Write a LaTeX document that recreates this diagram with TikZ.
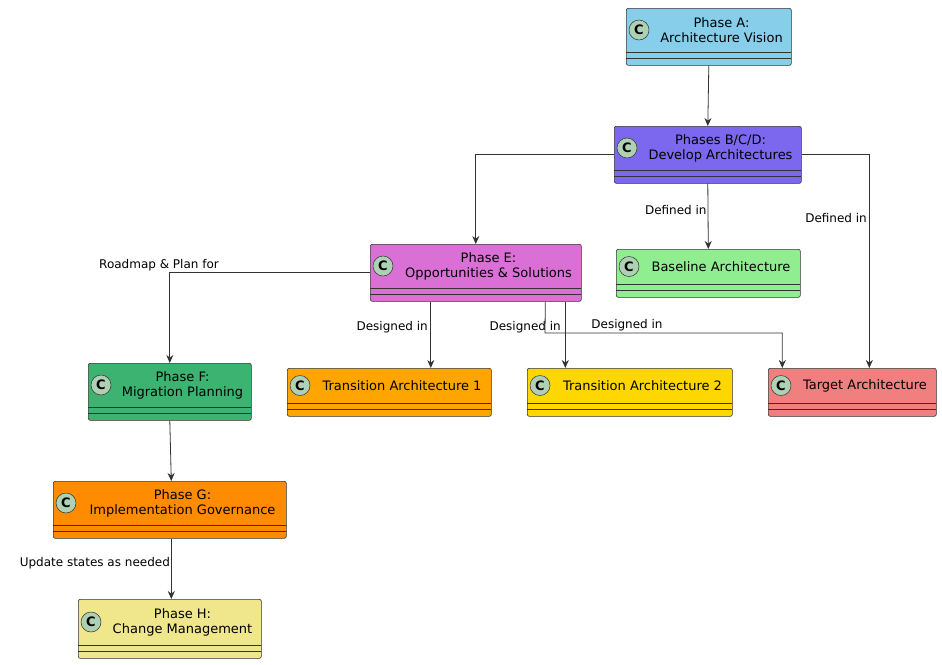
\documentclass[tikz,border=0pt]{standalone}
\usepackage{fontspec}
\setmainfont{DejaVu Sans}
\usetikzlibrary{arrows.meta}
\definecolor{cA}{HTML}{87CEEB}\definecolor{cB}{HTML}{7B68EE}\definecolor{cE}{HTML}{DA70D6}
\definecolor{cBase}{HTML}{90EE90}\definecolor{cF}{HTML}{3CB371}\definecolor{cT1}{HTML}{FFA500}
\definecolor{cT2}{HTML}{FFD700}\definecolor{cTg}{HTML}{F08080}\definecolor{cG}{HTML}{FF8C00}
\definecolor{cH}{HTML}{F0E68C}\definecolor{icon}{HTML}{ADD1B2}\definecolor{ln}{HTML}{333333}
\tikzset{clsbox/.style={draw=ln,line width=0.6pt,rounded corners=2pt,anchor=north west,inner sep=0pt},
 conn/.style={draw=ln,line width=0.8pt,-{Stealth[length=8pt,width=7pt]}},
 lbl/.style={font=\fontsize{12}{14}\selectfont,inner sep=1pt}}
\newcommand\cls[7]{%
 \node[clsbox,fill=#6,minimum width=#4pt-#2pt,minimum height=#5pt-#3pt] (#1) at (#2,#3) {};
 \draw[ln,line width=0.5pt] (#2,#5-13) -- (#4,#5-13) (#2,#5-7) -- (#4,#5-7);
 \pgfmathsetmacro\hy{(#3+#5-13)/2}
 \node[circle,fill=icon,draw=ln,line width=0.5pt,minimum size=20pt,inner sep=0pt,font=\bfseries\fontsize{13}{13}\selectfont] at (#2+13,\hy) {C};
 \node[align=center,font=\fontsize{13}{15}\selectfont,inner sep=0pt] at ({(#2+26+#4)/2},\hy) {#7};}
\begin{document}
\begin{tikzpicture}[x=1pt,y=-1pt]
\useasboundingbox[fill=white] (0,0) rectangle (942,664);
\cls{A}{626}{8}{791}{65}{cA}{Phase A:\\Architecture Vision}
\cls{B}{614}{126}{801}{183}{cB}{Phases B/C/D:\\Develop Architectures}
\cls{E}{370}{244}{581}{301}{cE}{Phase E:\\Opportunities \& Solutions}
\cls{Base}{616}{249}{800}{297}{cBase}{Baseline Architecture}
\cls{F}{88}{363}{251}{420}{cF}{Phase F:\\Migration Planning}
\cls{T1}{287}{368}{491}{416}{cT1}{Transition Architecture 1}
\cls{T2}{527}{368}{732}{416}{cT2}{Transition Architecture 2}
\cls{Tg}{768}{368}{936}{416}{cTg}{Target Architecture}
\cls{G}{53}{481}{286}{538}{cG}{Phase G:\\Implementation Governance}
\cls{H}{78}{599}{261}{658}{cH}{Phase H:\\Change Management}
\draw[conn] (A.south) -- (B.north);
\draw[conn] (B.west) -| (E.north);
\draw[conn] (B.south) -- node[lbl,pos=0.4,left]{Defined in} (Base.north);
\draw[conn] (B.east) -| ([xshift=17pt]Tg.north);
\node[lbl,anchor=east] at (868,218) {Defined in};
\draw[conn] (E.west) -| (F.north);
\node[lbl] at (159,265) {Roadmap \& Plan for};
\draw[conn] ([xshift=-45pt]E.south) -- ([xshift=-45pt]E.south |- T1.north);
\node[lbl,anchor=east] at (429,327) {Designed in};
\draw[conn] ([xshift=89.5pt]E.south) -- ([xshift=89.5pt]E.south |- T2.north);
\node[lbl,anchor=east] at (562,327) {Designed in};
\coordinate (k) at (545,333);
\draw[conn] ([xshift=69.5pt]E.south) -- (k) -| ([xshift=-70pt]Tg.north);
\node[lbl] at (627,325) {Designed in};
\draw[conn] (F.south) -- ([xshift=1.5pt]G.north);
\draw[conn] ([xshift=1.5pt]G.south) -- node[lbl,pos=0.4,left]{Update states as needed} ([xshift=1.5pt]H.north);
\end{tikzpicture}
\end{document}
